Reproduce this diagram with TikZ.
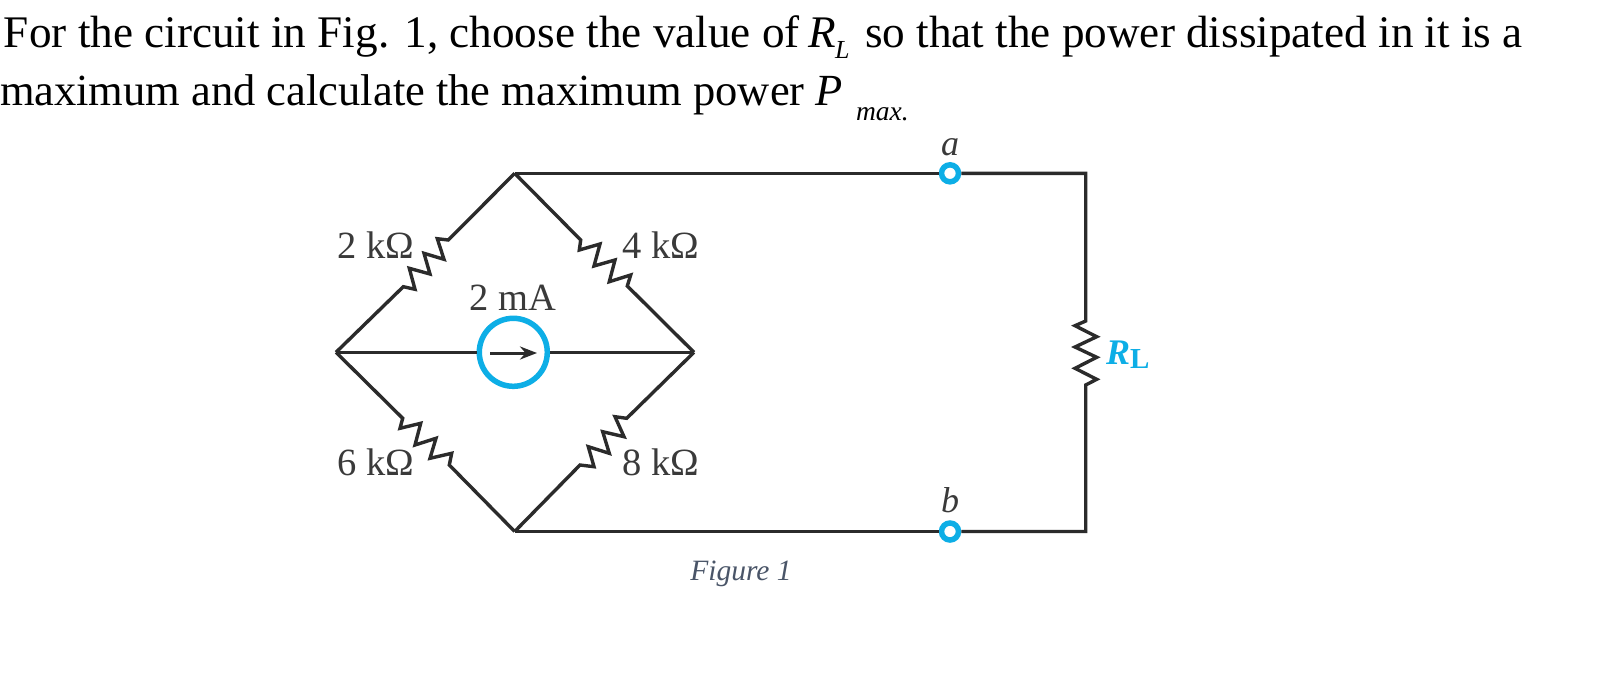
\documentclass[tikz,border=0pt]{standalone}
\usepackage{fontspec}
\setmainfont{Liberation Serif}
\usetikzlibrary{arrows.meta}
\definecolor{cblue}{HTML}{0DAEE6}
\definecolor{wire}{HTML}{2B2B2B}
\definecolor{lab}{HTML}{3A3A3A}
\definecolor{figc}{HTML}{4A5568}
\tikzset{
  wirel/.style={draw=wire,line width=3.4pt,line join=miter},
  prob/.style={anchor=base west,inner sep=0pt,outer sep=0pt,text=black,font=\fontsize{45.2}{45}\selectfont},
  probb/.style={anchor=base west,inner sep=0pt,outer sep=0pt,text=black,font=\fontsize{44.5}{45}\selectfont},
  labl/.style={anchor=center,inner sep=0pt,text=lab,font=\fontsize{38.5}{38}\selectfont},
  term/.style={circle,draw=cblue,fill=white,line width=5.5pt,minimum size=17pt,inner sep=0pt},
  src/.style={circle,draw=cblue,fill=white,line width=5.5pt,minimum size=68pt,inner sep=0pt}
}
\begin{document}
\begin{tikzpicture}[x=1pt,y=-1pt]
\useasboundingbox[fill=white] (0,0) rectangle (1603,694);
% problem text
\node[prob] (t1) at (4,47) {For the circuit in Fig. 1, choose the value of\kern-3pt\ \textit{R}};
\node[prob,font=\itshape\fontsize{26}{26}\selectfont] (t1s) at (835,58) {L};
\node[prob] (t1b) at (865,47) {so that the power dissipated in it is a};
\node[probb] (t2) at (0,105) {maximum and calculate the maximum power \textit{P}};
\node[prob,font=\itshape\fontsize{27.5}{27}\selectfont] (t2s) at (856,120) {max.};
% junctions
\coordinate (T) at (514.7,173.3);
\coordinate (L) at (336,352.3);
\coordinate (R) at (694,352.3);
\coordinate (B) at (514.7,531.5);
\coordinate (TR) at (1085.7,173.3);
\coordinate (BR) at (1085.7,531.5);
% 2k
\coordinate (r1a) at (448.3,240);
\coordinate (r1b) at (403.3,286.7);
\draw[wirel] (T) -- (r1a) -- (437.3,238.7) -- (444,259.3) -- (424,253.3) -- (430,274) -- (409.3,268.3) -- (415,289.3) -- (r1b) -- (L);
% 4k
\coordinate (r2a) at (580.7,240);
\coordinate (r2b) at (627.3,286);
\draw[wirel] (T) -- (r2a) -- (579.3,250) -- (600,244) -- (594,266) -- (615,260) -- (609.3,281.7) -- (630.7,275) -- (r2b) -- (R);
% 6k
\coordinate (r3a) at (402.7,418.3);
\coordinate (r3b) at (449.3,465);
\draw[wirel] (L) -- (r3a) -- (400,428.3) -- (420.7,423.3) -- (415,445) -- (436,438.3) -- (430,458.3) -- (451.7,453.3) -- (r3b) -- (B);
% 8k
\coordinate (r4a) at (626.7,418.3);
\coordinate (r4b) at (580,465);
\draw[wirel] (R) -- (r4a) -- (615,416.7) -- (624,436.7) -- (602.7,431.7) -- (609.3,453.3) -- (588.3,446.7) -- (594,466.7) -- (r4b) -- (B);
% source
\node[src] (S) at (513.3,352.3) {};
\draw[wirel] (L) -- (S);
\draw[wirel] (S) -- (R);
\coordinate (ar1) at (490,353);
\coordinate (ar2) at (537,353);
\draw[wire,line width=3pt,-{Stealth[length=17pt,width=13pt]}] (ar1) -- (ar2);
% right branch
\node[term] (a) at (950,173.3) {};
\node[term] (b) at (950,531.5) {};
\draw[wirel] (T) -- (a);
\draw[wirel] (B) -- (b);
\coordinate (rla) at (1085.7,321);
\coordinate (rlb) at (1085.7,385);
\draw[wirel] (a) -- (TR) -- (rla) -- (1075,325.7) -- (1096.7,336.7) -- (1075,347) -- (1096.7,357.3) -- (1075,368.3) -- (1096.7,379.3) -- (rlb) -- (BR) -- (b);
% labels
\node[labl] (l1) at (376,245) {2 kΩ};
\node[labl] (l2) at (661,245) {4 kΩ};
\node[labl] (l3) at (376,462) {6 kΩ};
\node[labl] (l4) at (661,462) {8 kΩ};
\node[labl] (l5) at (513,298) {2 mA};
\node[labl,font=\itshape\fontsize{36}{36}\selectfont] (la) at (950,147) {a};
\node[labl,font=\itshape\fontsize{36}{36}\selectfont] (lb) at (950,500) {b};
\node[anchor=base west,inner sep=0pt,text=cblue,font=\bfseries\fontsize{36}{36}\selectfont] (rl) at (1106,364) {\textit{R}\raisebox{-4pt}{\fontsize{29}{29}\selectfont L}};
\node[labl,text=figc,font=\itshape\fontsize{29.5}{29}\selectfont] (fig) at (741,574) {Figure 1};
\end{tikzpicture}
\end{document}
